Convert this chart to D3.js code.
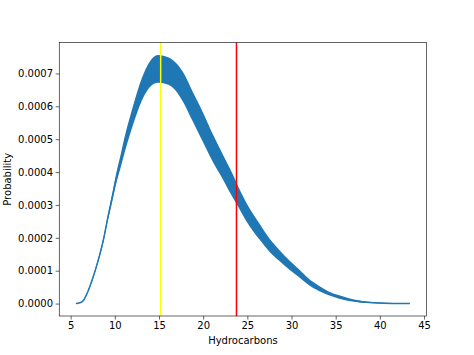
<!DOCTYPE html>
<html>
<head>
<meta charset="utf-8">
<script src="https://cdn.jsdelivr.net/npm/d3@7"></script>
<style>
  body { margin: 0; background: #fff; }
  text { font-family: "DejaVu Sans", sans-serif; fill: #000; }
</style>
</head>
<body>
<svg id="chart" width="474" height="355"></svg>
<script>
// Values
var hydrocarbons = [5.6, 6.0, 6.4, 7.0, 7.5, 8.1, 8.7, 9.2, 9.7, 10.2, 10.7, 11.1, 11.9, 12.6, 13.4,
    14.1, 14.9, 15.5, 16.6, 17.7, 18.8, 20.0, 21.0, 22.1, 23.4, 23.8, 24.9, 26.4, 27.5, 28.6,
    29.8, 30.9, 31.9, 33.1, 34.2, 35.4, 36.5, 37.7, 38.8, 39.9, 41.5, 43.4];

// centre of the noisy curve
var probability = [0, 0.000002, 0.000008, 0.00004, 0.000077, 0.00013, 0.000193, 0.00026, 0.000322,
    0.000385, 0.000438, 0.000482, 0.000558, 0.000618, 0.000672, 0.000702, 0.000714, 0.000712, 0.000698,
    0.00066, 0.0006, 0.000535, 0.000478, 0.000422, 0.000355, 0.000334, 0.000278, 0.000218, 0.000178,
    0.000147, 0.000116, 0.000091, 0.000067, 0.000046, 0.000031, 0.00002, 0.000012, 0.0000065,
    0.0000035, 0.0000015, 0.0000004, 0];

// half thickness of the noise band around the centre
var noise = [0.000001, 0.000001, 0.000002, 0.000003, 0.000004, 0.000005, 0.000007, 0.000009, 0.000012,
    0.000016, 0.00002, 0.000024, 0.000028, 0.000032, 0.000036, 0.00004, 0.000042, 0.000042, 0.000042,
    0.000045, 0.000045, 0.000045, 0.000042, 0.000038, 0.000035, 0.000032, 0.000028, 0.000024, 0.00002,
    0.000017, 0.000014, 0.000012, 0.00001, 0.000008, 0.000006, 0.000005, 0.000004, 0.000003,
    0.000002, 0.0000015, 0.000001, 0.000001];

var markers = [15.19, 23.77];
var markerColors = ["#ffff00", "#ff0000"];

var xTicks = [5, 10, 15, 20, 25, 30, 35, 40, 45];
var yTicks = [0, 0.0001, 0.0002, 0.0003, 0.0004, 0.0005, 0.0006, 0.0007];

var width = 474, height = 355;
var margin = {left: 59.25, right: 47.4, top: 42.6, bottom: 39};

var svg = d3.select("#chart");

var points = hydrocarbons.map(function(d, i) {
    return {x: d, y: probability[i], lo: Math.max(0, probability[i] - noise[i]), hi: probability[i] + noise[i]};
});

// matplotlib-like 5% margins
var xMin = d3.min(hydrocarbons), xMax = d3.max(hydrocarbons);
var yMin = d3.min(points, function(d) { return d.lo; });
var yMax = d3.max(points, function(d) { return d.hi; });
var xPad = (xMax - xMin) * 0.05, yPad = (yMax - yMin) * 0.05;

var x = d3.scaleLinear()
    .domain([xMin - xPad, xMax + xPad])
    .range([margin.left, width - margin.right]);

var y = d3.scaleLinear()
    .domain([yMin - yPad, yMax + yPad])
    .range([height - margin.bottom, margin.top]);

// Noise band + curve

svg.append("path")
    .datum(points)
    .attr("fill", "#1f77b4")
    .attr("d", d3.area()
        .curve(d3.curveMonotoneX)
        .x(function(d) { return x(d.x); })
        .y0(function(d) { return y(d.lo); })
        .y1(function(d) { return y(d.hi); }));

svg.append("path")
    .datum(points)
    .attr("fill", "none")
    .attr("stroke", "#1f77b4")
    .attr("stroke-width", 1.5)
    .attr("d", d3.line()
        .curve(d3.curveMonotoneX)
        .x(function(d) { return x(d.x); })
        .y(function(d) { return y(d.y); }));

// Vertical marker lines

svg.selectAll(".marker")
    .data(markers)
    .enter().append("line")
    .attr("class", "marker")
    .attr("x1", function(d) { return x(d); })
    .attr("x2", function(d) { return x(d); })
    .attr("y1", margin.top)
    .attr("y2", height - margin.bottom)
    .attr("stroke", function(d, i) { return markerColors[i]; })
    .attr("stroke-width", 1.5);

// Axes

var xAxis = d3.axisBottom(x)
    .tickValues(xTicks)
    .tickSize(3.6)
    .tickPadding(2.6)
    .tickFormat(d3.format("d"));

var yAxis = d3.axisLeft(y)
    .tickValues(yTicks)
    .tickSize(3.6)
    .tickPadding(2.6)
    .tickFormat(d3.format(".4f"));

var gx = svg.append("g")
    .attr("transform", "translate(0," + (height - margin.bottom) + ")")
    .call(xAxis);

var gy = svg.append("g")
    .attr("transform", "translate(" + margin.left + ",0)")
    .call(yAxis);

[gx, gy].forEach(function(g) {
    g.select(".domain").remove();
    g.selectAll(".tick line").attr("stroke", "#000").attr("stroke-width", 0.6);
    g.selectAll(".tick text").attr("font-size", 10).attr("fill", "#000");
});

// frame
svg.append("rect")
    .attr("x", margin.left)
    .attr("y", margin.top)
    .attr("width", width - margin.left - margin.right)
    .attr("height", height - margin.top - margin.bottom)
    .attr("fill", "none")
    .attr("stroke", "#000")
    .attr("stroke-width", 0.6);

svg.append("text")
    .attr("x", (margin.left + width - margin.right) / 2)
    .attr("y", 344)
    .attr("text-anchor", "middle")
    .attr("font-size", 10)
    .text("Hydrocarbons");

svg.append("text")
    .attr("transform", "translate(11," + ((margin.top + height - margin.bottom) / 2) + ") rotate(-90)")
    .attr("text-anchor", "middle")
    .attr("font-size", 10)
    .text("Probability");
</script>
</body>
</html>
